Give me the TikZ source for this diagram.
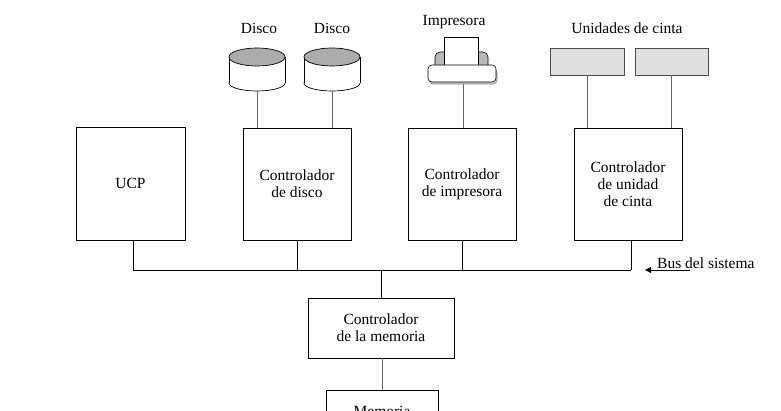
\documentclass[tikz,border=0pt]{standalone}
\usepackage{fontspec}
\setmainfont{Liberation Serif}
\usetikzlibrary{arrows.meta}
\begin{document}
\begin{tikzpicture}[x=1pt,y=-1pt,
  box/.style={draw,line width=0.8pt,align=center,font=\fontsize{15.5}{17}\selectfont,inner sep=0pt},
  lbl/.style={font=\fontsize{15.5}{17}\selectfont,inner sep=0pt},
  wire/.style={draw=gray!80!black,line width=0.7pt},
  bus/.style={draw,line width=0.9pt}]
\useasboundingbox (0,0) rectangle (781,411);
\begin{scope}
\clip (0,0) rectangle (781,411);
\node[box,minimum width=109,minimum height=113] (ucp) at (130.5,183.5) {UCP};
\node[box,minimum width=108,minimum height=112] (cd) at (297,184) {Controlador\\de disco};
\node[box,minimum width=108,minimum height=112] (ci) at (462,184) {Controlador\\de impresora};
\node[box,minimum width=108,minimum height=112] (ct) at (628,184) {Controlador\\de unidad\\de cinta};
\node[box,minimum width=146,minimum height=60] (cm) at (381,328) {Controlador\\de la memoria};
\node[box,minimum width=112,minimum height=60] (mem) at (382,420) {};
\node[lbl] (memt) at (382,411) {Memoria};
% bus
\coordinate (b1) at (133,270); \coordinate (b2) at (631,270);
\draw[bus] (b1) -- (b2);
\draw[bus] (ucp.south -| b1) -- (b1);
\draw[bus] (cd.south) -- (cd.south |- b1);
\draw[bus] (ci.south) -- (ci.south |- b1);
\draw[bus] (b2 |- ct.south) -- (b2);
\draw[bus] (cm.north) -- (cm.north |- b1);
\draw[wire] (cm.south -| mem.north) -- (mem.north);
\coordinate (as) at (690,270); \coordinate (ae) at (645,270);
\draw[line width=0.8pt,-{Triangle[length=6pt,width=6pt]}] (as) -- (ae);
\node[lbl,anchor=west] (busl) at (657,263) {Bus del sistema};
% disks
\foreach \n/\cx in {d1/257, d2/332}{
  \draw[fill=white,line width=0.7pt] (\cx,83) ellipse[x radius=28,y radius=8];
  \fill[white] (\cx-28,57) rectangle (\cx+28,83);
  \draw[line width=0.7pt] (\cx-28,57) -- (\cx-28,83) (\cx+28,57) -- (\cx+28,83);
  \draw[fill=gray!65,line width=0.7pt] (\cx,57) ellipse[x radius=28,y radius=9];
  \coordinate (\n) at (\cx,91);
}
\node[lbl] (dl1) at (259,28) {Disco};
\node[lbl] (dl2) at (332,28) {Disco};
\draw[wire] (d1) -- (d1 |- cd.north);
\draw[wire] (d2) -- (d2 |- cd.north);
% printer
\draw[fill=gray!55,line width=0.6pt,rounded corners=5pt] (435,66) -- (435,52) -- (488,52) -- (488,66);
\draw[fill=white,line width=0.6pt] (444,37) rectangle (478,66);
\draw[fill=gray!35,draw=gray,line width=0.6pt,rounded corners=4pt] (429,69) rectangle (497,84);
\draw[fill=white,line width=0.6pt,rounded corners=4pt] (428,65) rectangle (496,82);
\node[lbl] (pl) at (454,22) {Impresora};
\coordinate (pr) at (463,84);
\draw[wire] (pr) -- (pr |- ci.north);
% tapes
\node[draw=gray!60!black,fill=gray!25,line width=0.7pt,minimum width=74,minimum height=27,inner sep=0] (t1) at (587,61.5) {};
\node[draw=gray!60!black,fill=gray!25,line width=0.7pt,minimum width=73,minimum height=27,inner sep=0] (t2) at (671.5,61.5) {};
\node[lbl] (tl) at (627,28) {Unidades de cinta};
\draw[wire] (t1.south) -- (t1.south |- ct.north);
\draw[wire] (t2.south) -- (t2.south |- ct.north);
\end{scope}
\end{tikzpicture}
\end{document}
